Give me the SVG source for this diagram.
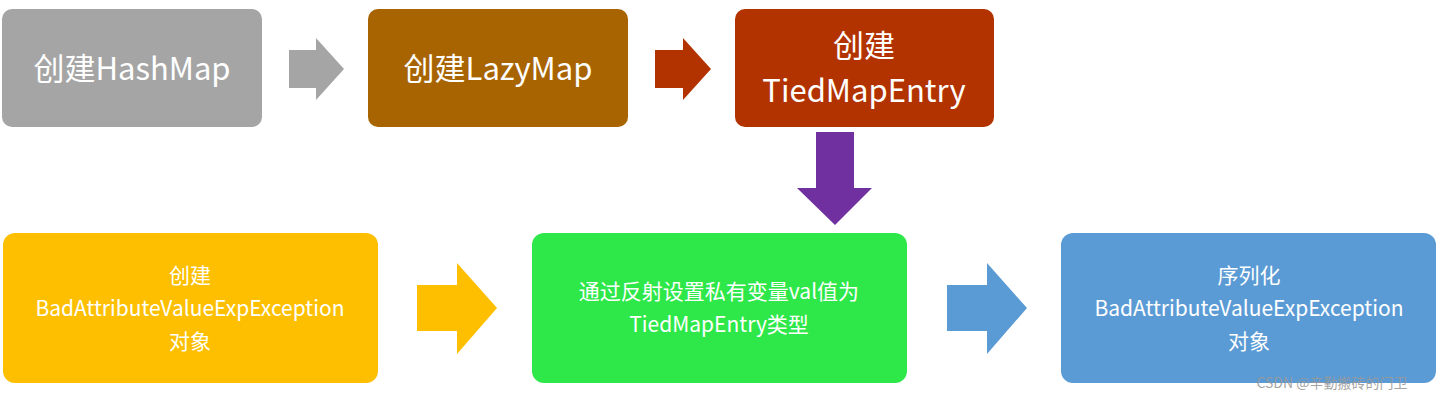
<svg xmlns="http://www.w3.org/2000/svg" width="1446" height="402" viewBox="0 0 1446 402">
<style>
.t{font-family:"Noto Sans CJK SC","Noto Sans",sans-serif;fill:#fff;text-anchor:middle}
.big{font-size:31px}
.sm{font-size:21px}
</style>
<rect width="1446" height="402" fill="#fff"/>
<g id="connectors">
<polygon points="289,50 316,50 316,38 344,69 316,100 316,88 289,88" fill="#a5a5a5"/>
<polygon points="655,50 683,50 683,38 711,69 683,100 683,88 655,88" fill="#b33300"/>
<polygon points="816,132 854,132 854,188 872,188 835,225 797,188 816,188" fill="#7030a0"/>
<polygon points="417,285 457,285 457,263 497,308 457,354 457,331 417,331" fill="#fdbf00"/>
<polygon points="947,285 987,285 987,263 1027,308 987,354 987,331 947,331" fill="#5b9bd5"/>
</g>
<g id="n1"><rect x="2" y="9" width="260" height="118" rx="10" fill="#a5a5a5"/><text class="t big" x="132" y="80">创建HashMap</text></g>
<g id="n2"><rect x="368" y="9" width="260" height="118" rx="10" fill="#a86400"/><text class="t big" x="498" y="80">创建LazyMap</text></g>
<g id="n3"><rect x="735" y="9" width="259" height="118" rx="10" fill="#b33300"/><text class="t big" x="864" y="57">创建</text><text class="t big" x="864" y="102">TiedMapEntry</text></g>
<g id="n4"><rect x="3" y="233" width="375" height="150" rx="12" fill="#fdbf00"/><text class="t sm" x="190" y="283">创建</text><text class="t sm" x="190" y="316">BadAttributeValueExpException</text><text class="t sm" x="190" y="349">对象</text></g>
<g id="n5"><rect x="532" y="233" width="375" height="150" rx="12" fill="#2ee84a"/><text class="t sm" x="719" y="299">通过反射设置私有变量val值为</text><text class="t sm" x="719" y="332">TiedMapEntry类型</text></g>
<g id="n6"><rect x="1061" y="233" width="375" height="150" rx="12" fill="#5b9bd5"/><text class="t sm" x="1249" y="283">序列化</text><text class="t sm" x="1249" y="316">BadAttributeValueExpException</text><text class="t sm" x="1249" y="349">对象</text></g>
<text x="1332" y="388" font-family="Noto Sans CJK SC,sans-serif" font-size="14" fill="#999" text-anchor="middle" fill-opacity="0.9">CSDN @辛勤搬砖的门卫</text>
</svg>
